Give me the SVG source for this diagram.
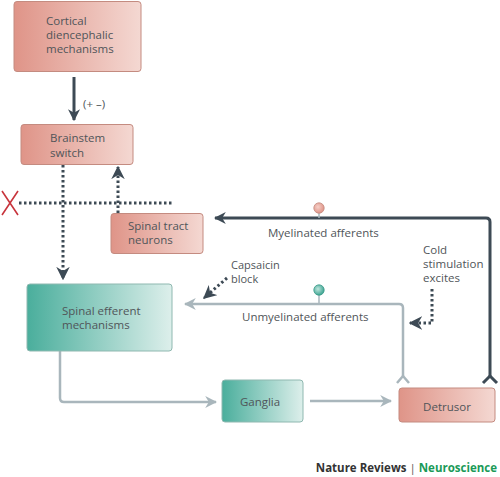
<svg xmlns="http://www.w3.org/2000/svg" width="500" height="477" viewBox="0 0 500 477">
<defs>
<linearGradient id="salmon" x1="0" y1="0" x2="1" y2="0">
<stop offset="0" stop-color="#df9488"/>
<stop offset="1" stop-color="#f4d8d2"/>
</linearGradient>
<linearGradient id="teal" x1="0" y1="0" x2="1" y2="0">
<stop offset="0" stop-color="#4aae9c"/>
<stop offset="1" stop-color="#ddefeb"/>
</linearGradient>
<radialGradient id="pinkDot" cx="0.4" cy="0.4" r="0.6">
<stop offset="0" stop-color="#f6d0c8"/>
<stop offset="1" stop-color="#df9488"/>
</radialGradient>
<radialGradient id="tealDot" cx="0.4" cy="0.4" r="0.6">
<stop offset="0" stop-color="#bfe6dd"/>
<stop offset="1" stop-color="#3fa593"/>
</radialGradient>
<marker id="ahDark" viewBox="0 0 10 10" refX="9" refY="5" markerWidth="4" markerHeight="4" orient="auto" markerUnits="strokeWidth">
<path d="M0,0 L10,5 L0,10 L3,5 z" fill="#3d4a55"/>
</marker>
<marker id="ahDot" viewBox="0 0 10 10" refX="9" refY="5" markerWidth="4.5" markerHeight="4.5" orient="auto" markerUnits="strokeWidth">
<path d="M0,0 L10,5 L0,10 L3,5 z" fill="#3d4a55"/>
</marker>
<marker id="ahGray" viewBox="0 0 10 10" refX="9" refY="5" markerWidth="4.8" markerHeight="4.8" orient="auto" markerUnits="strokeWidth">
<path d="M0,0 L10,5 L0,10 L3,5 z" fill="#a9b6bc"/>
</marker>
</defs>
<style>
.box{stroke-width:1}
.sal{fill:url(#salmon);stroke:#c48b80}
.tea{fill:url(#teal);stroke:#8fb8b0}
text{font-family:"Open Sans","Liberation Sans",sans-serif;font-size:11.5px;fill:#505559}
.small{font-size:11px}
.dark{fill:none;stroke:#3d4a55;stroke-width:3}
.dot{fill:none;stroke:#3d4a55;stroke-width:3;stroke-dasharray:2.5 2.5}
.gray{fill:none;stroke:#a9b6bc;stroke-width:2.5}
</style>
<rect width="500" height="477" fill="#ffffff"/>

<g id="connectors">
<path class="dark" d="M74,77 V120" marker-end="url(#ahDark)"/>
<path class="dot" d="M63,165 V279" marker-end="url(#ahDot)"/>
<path class="dot" d="M118,213 V167" marker-end="url(#ahDot)"/>
<path class="dot" d="M19,203 H172"/>
<path class="dark" d="M490,376 V222 Q490,218 486,218 H215" marker-end="url(#ahDark)"/>
<path class="dark" d="M490,376 L483,383 M490,376 L497,383" stroke-width="2.5"/>
<line x1="319" y1="212" x2="319" y2="218" stroke="#a9b6bc" stroke-width="1.5"/>
<path class="gray" d="M403,376 V308 Q403,304 399,304 H185" marker-end="url(#ahGray)"/>
<path class="gray" d="M403,376 L397,383 M403,376 L409,383" stroke-width="2"/>
<line x1="319" y1="295" x2="319" y2="304" stroke="#a9b6bc" stroke-width="1.5"/>
<path class="dot" d="M432,289 V323 H410" marker-end="url(#ahDot)"/>
<path class="dot" d="M227,278 L204,298" marker-end="url(#ahDot)"/>
<path class="gray" d="M60,351 V398 Q60,402 64,402 H216" marker-end="url(#ahGray)"/>
<path class="gray" d="M310,401 H391" marker-end="url(#ahGray)"/>
<path d="M2,191 L18,215 M18,191 L2,215" stroke="#c8343c" stroke-width="1.6" fill="none"/>
<circle cx="319" cy="208" r="5.2" fill="url(#pinkDot)" stroke="#c48b80" stroke-width="0.8"/>
<circle cx="319" cy="290" r="5.2" fill="url(#tealDot)" stroke="#3a9b89" stroke-width="0.8"/>
</g>

<g id="cortical">
<rect class="box sal" x="14" y="1.5" width="127" height="70" rx="3"/>
<text x="46" y="25">Cortical</text>
<text x="46" y="39">diencephalic</text>
<text x="46" y="53">mechanisms</text>
</g>
<text x="83" y="108" font-size="10.5">(+ –)</text>

<g id="brainstem">
<rect class="box sal" x="21" y="124.5" width="112" height="40" rx="3"/>
<text x="50" y="142">Brainstem</text>
<text x="50" y="157">switch</text>
</g>

<g id="spinal-tract">
<rect class="box sal" x="111" y="213.5" width="92" height="40" rx="3"/>
<text x="128" y="230">Spinal tract</text>
<text x="128" y="244">neurons</text>
</g>

<g id="spinal-efferent">
<rect class="box tea" x="27" y="284" width="145" height="67" rx="3"/>
<text x="62" y="315">Spinal efferent</text>
<text x="62" y="329">mechanisms</text>
</g>

<g id="ganglia">
<rect class="box tea" x="222" y="380" width="81" height="42" rx="3"/>
<text x="260" y="406" text-anchor="middle">Ganglia</text>
</g>

<g id="detrusor">
<rect class="box sal" x="399" y="388" width="96" height="34" rx="3"/>
<text x="447" y="411" text-anchor="middle">Detrusor</text>
</g>

<g id="labels">
<text x="268" y="237">Myelinated afferents</text>
<text x="423" y="254">Cold</text>
<text x="423" y="268">stimulation</text>
<text x="423" y="282">excites</text>
<text class="small" x="231" y="269">Capsaicin</text>
<text class="small" x="231" y="283">block</text>
<text x="242" y="321">Unmyelinated afferents</text>
</g>

<text x="497" y="472" text-anchor="end" font-size="11" font-weight="bold" style="font-family:'Open Sans','Liberation Sans',sans-serif"><tspan fill="#333333">Nature Reviews</tspan><tspan fill="#555555" font-weight="normal"> | </tspan><tspan fill="#1a9a58">Neuroscience</tspan></text>
</svg>
